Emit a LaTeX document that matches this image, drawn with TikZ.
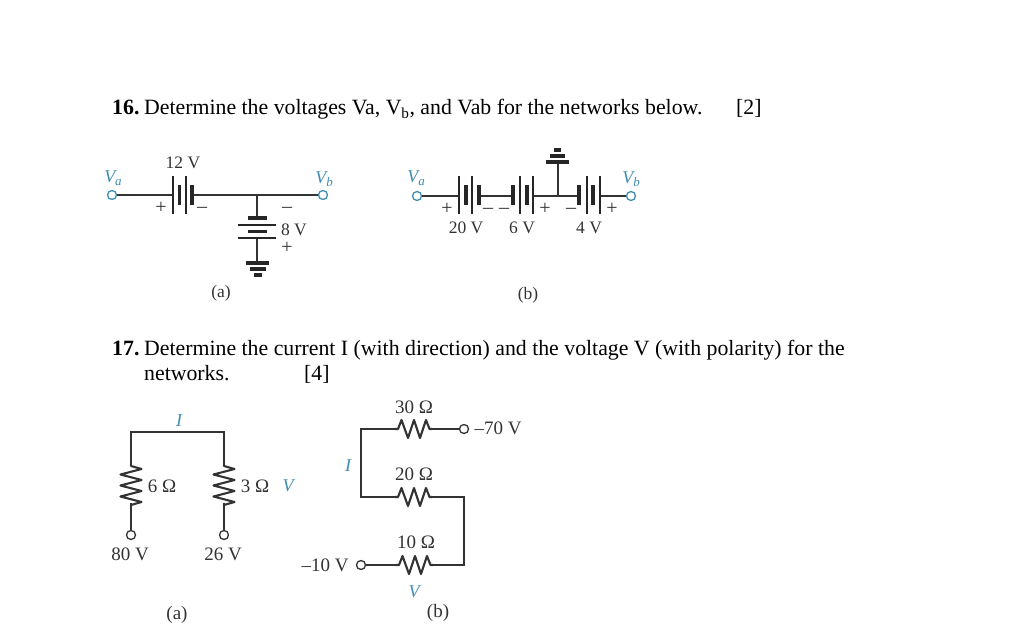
\documentclass[tikz,border=0pt]{standalone}
\usepackage{fontspec}
\setmainfont{Liberation Serif}
\definecolor{lbl}{HTML}{3F8DB0}
\definecolor{ink}{HTML}{333333}
\tikzset{
  x=1pt,y=-1pt,
  wire/.style={draw=ink,line width=1.2pt},
  wireb/.style={draw=ink,line width=1.5pt},
  rs/.style={draw=ink,line width=2.1pt,line join=round},
  long/.style={draw=black!85,line width=2.3pt},
  short/.style={draw=black!85,line width=3.8pt},
  gnd/.style={draw=black!85,line width=3.2pt},
  term/.style={circle,draw=ink,fill=white,line width=1.3pt,inner sep=0pt,minimum size=9pt},
  bterm/.style={term,draw=lbl},
  txt/.style={text=ink,inner sep=0pt,font=\fontsize{17.5}{18}\selectfont},
  txtb/.style={text=ink,inner sep=0pt,font=\fontsize{19}{20}\selectfont},
  sign/.style={text=ink,inner sep=0pt,font=\fontsize{20}{20}\selectfont},
  vlab/.style={text=lbl,inner sep=0pt,font=\fontsize{18}{18}\selectfont\itshape},
  head/.style={text=black,inner sep=0pt,anchor=base west,font=\fontsize{21.8}{24}\selectfont},
}
\newcommand{\plong}[2]{\draw[long] (#1,#2-19) -- (#1,#2+19);}
\newcommand{\pshort}[2]{\draw[short] (#1,#2-10) -- (#1,#2+10);}
\newcommand{\hres}[3]{%
  \coordinate (#1-l) at (#2,#3);
  \coordinate (#1-r) at (#2+37,#3);
  \draw[rs] (#2,#3) -- ++(3,0) -- ++(3.5,-9) -- ++(6.5,18) -- ++(6,-18) -- ++(6,18) -- ++(6,-18) -- ++(3.5,9) -- ++(2.5,0);}
\newcommand{\vres}[3]{%
  \coordinate (#1-t) at (#2,#3);
  \coordinate (#1-b) at (#2,#3+38);
  \draw[rs] (#2,#3) -- ++(0,1) -- ++(10.5,3) -- ++(-21,5.5) -- ++(21,5.5) -- ++(-21,5.5) -- ++(21,5.5) -- ++(-21,5.5) -- ++(21,5.5) -- ++(-10.5,3) -- ++(0,1);}
\newcommand{\Vsub}[1]{\textit{V}\raisebox{-3pt}{\fontsize{13}{13}\selectfont\textit{#1}}}
\begin{document}
\begin{tikzpicture}
\useasboundingbox (0,0) rectangle (1024,644);
\fill[white] (0,0) rectangle (1024,644);
% headings
\node[head] (n16) at (112,115) {\textbf{16.}};
\node[head] (h16) at (144,115) {Determine the voltages Va, V\textsubscript{b}, and Vab for the networks below.};
\node[head] (m2) at (736,115) {[2]};
\node[head] (n17) at (112,355) {\textbf{17.}};
\node[head] (h17) at (144,355) {Determine the current I (with direction) and the voltage V (with polarity) for the};
\node[head] (h17b) at (144,380) {networks.};
\node[head] (m4) at (304,380) {[4]};

% ---- 16(a)
\node[bterm] (aVa) at (112,195) {};
\node[bterm] (aVb) at (323,195) {};
\coordinate (aB1) at (173,195);
\coordinate (aB2) at (192,195);
\coordinate (aJ) at (257,195);
\coordinate (aB3) at (257,218);
\coordinate (aB4) at (257,238);
\coordinate (aG) at (257,263);
\draw[wire] (aVa) -- (aB1);
\draw[wire] (aB2) -- (aVb);
\draw[wire] (aJ) -- (aB3);
\draw[wire] (aB4) -- (aG);
\plong{173}{195}\pshort{179.5}{195}\plong{186}{195}\pshort{192}{195}
\draw[short] (248,218) -- (267,218);
\draw[long] (238,225) -- (276,225);
\draw[short] (248,231.5) -- (267,231.5);
\draw[long] (238,238) -- (276,238);
\draw[gnd] (246,263) -- (269,263);
\draw[gnd] (250,269) -- (266,269);
\draw[gnd] (254,275) -- (262,275);
\node[vlab] (aLa) at (113,178) {\Vsub{a}};
\node[vlab] (aLb) at (324,179) {\Vsub{b}};
\node[txt] (a12) at (183,163) {12 V};
\node[sign] (ap1) at (161,208) {+};
\node[sign] (am1) at (202,210) {–};
\node[sign] (am2) at (287,210) {–};
\node[txt] (a8) at (294,230) {8 V};
\node[sign] (ap2) at (287,248) {+};
\node[txt] (acap) at (221,293) {(a)};

% ---- 16(b)
\node[bterm] (bVa) at (417,196) {};
\node[bterm] (bVb) at (631,196) {};
\coordinate (b1l) at (459,196);
\coordinate (b1r) at (479,196);
\coordinate (b2l) at (513,196);
\coordinate (b2r) at (533,196);
\coordinate (b3l) at (579,196);
\coordinate (b3r) at (600,196);
\coordinate (bJ) at (558,196);
\coordinate (bG) at (558,162);
\draw[wire] (bVa) -- (b1l);
\draw[wire] (b1r) -- (b2l);
\draw[wire] (b2r) -- (b3l);
\draw[wire] (b3r) -- (bVb);
\draw[wire] (bJ) -- (bG);
\plong{459}{195}\pshort{466}{195}\plong{472}{195}\pshort{479}{195}
\pshort{513}{195}\plong{520}{195}\pshort{527}{195}\plong{533}{195}
\pshort{579}{195}\plong{587}{195}\pshort{593}{195}\plong{600}{195}
\draw[gnd] (546,162) -- (569,162);
\draw[gnd] (550,156) -- (565,156);
\draw[gnd] (554,150) -- (561,150);
\node[vlab] (bLa) at (416,178) {\Vsub{a}};
\node[vlab] (bLb) at (631,179) {\Vsub{b}};
\node[sign] (bp1) at (447,209) {+};
\node[sign] (bm1) at (488,211) {–};
\node[sign] (bm2) at (504,211) {–};
\node[sign] (bp2) at (545,209) {+};
\node[sign] (bm3) at (571,211) {–};
\node[sign] (bp3) at (612,209) {+};
\node[txt] (b20) at (466,228) {20 V};
\node[txt] (b6) at (522,228) {6 V};
\node[txt] (b4) at (589,228) {4 V};
\node[txt] (bcap) at (528,295) {(b)};

% ---- 17(a)
\coordinate (cTL) at (131,432);
\coordinate (cTR) at (224,432);
\vres{cR1}{131}{465}
\vres{cR2}{224}{465}
\node[term] (c80) at (131,535) {};
\node[term] (c26) at (224,535) {};
\draw[wireb] (cR1-t) -- (cTL) -- (cTR) -- (cR2-t);
\draw[wireb] (cR1-b) -- (c80);
\draw[wireb] (cR2-b) -- (c26);
\node[vlab] (cI) at (179,421) {I};
\node[txtb] (c6) at (162,486) {6 Ω};
\node[txtb] (c3) at (255,486) {3 Ω};
\node[vlab] (cV) at (288,486) {V};
\node[txtb] (c80t) at (130,554) {80 V};
\node[txtb] (c26t) at (223,554) {26 V};
\node[txtb] (ccap) at (177,615) {(a)};

% ---- 17(b)
\hres{dR1}{395}{429}
\hres{dR2}{395}{497}
\hres{dR3}{396}{565}
\node[term] (d70) at (464,429) {};
\node[term] (d10) at (361,565) {};
\coordinate (dL1) at (361,429);
\coordinate (dL2) at (361,497);
\coordinate (dR1c) at (464,497);
\coordinate (dR2c) at (464,565);
\draw[wireb] (dR1-r) -- (d70);
\draw[wireb] (dR1-l) -- (dL1) -- (dL2) -- (dR2-l);
\draw[wireb] (dR2-r) -- (dR1c) -- (dR2c) -- (dR3-r);
\draw[wireb] (d10) -- (dR3-l);
\node[txtb] (d30) at (414,407) {30 Ω};
\node[txtb] (d20) at (414,474) {20 Ω};
\node[txtb] (d10t) at (416,542) {10 Ω};
\node[txtb] (d70t) at (498,428) {–70 V};
\node[txtb] (d10v) at (325,565) {–10 V};
\node[vlab] (dI) at (348,466) {I};
\node[vlab] (dV) at (414,592) {V};
\node[txtb] (dcap) at (438,613) {(b)};
\end{tikzpicture}
\end{document}
